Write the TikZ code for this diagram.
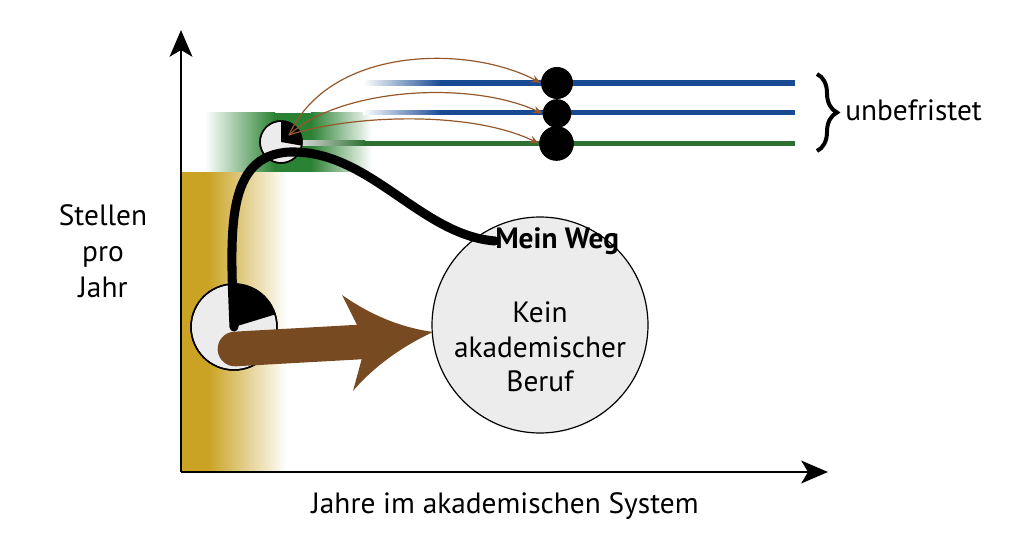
\documentclass[tikz,border=0pt]{standalone}
\usepackage{fontspec}
\setmainfont{PT Sans}
\usetikzlibrary{arrows.meta,decorations.pathreplacing}
\definecolor{gold}{RGB}{202,163,36}
\definecolor{bandgreen}{RGB}{44,130,52}
\definecolor{linegreen}{RGB}{45,112,50}
\definecolor{lineblue}{RGB}{24,74,148}
\definecolor{arrbrown}{RGB}{120,74,34}
\definecolor{thinbrown}{RGB}{150,88,42}
\definecolor{pielight}{RGB}{236,236,236}
\tikzset{
  lbl/.style={font=\fontsize{22}{26}\selectfont, align=center, inner sep=0pt},
  axis/.style={line width=2.2pt, -{Stealth[length=20pt,width=17pt,inset=5pt]}},
  thinarr/.style={thinbrown, line width=0.9pt, -{Stealth[length=7pt,width=5.5pt]}},
  dot/.style={circle, fill=black, inner sep=0pt},
  piecirc/.style={fill=pielight, draw=black, line width=1.1pt},
}
\begin{document}
\begin{tikzpicture}[x=0.75pt,y=0.75pt]
\useasboundingbox (0,0) rectangle (1024,-538);
% gold column
\fill[gold] (181,-172) rectangle (209,-472);
\shade[left color=gold, right color=white] (208,-172) rectangle (287,-472);
% green band
\shade[left color=white, right color=bandgreen] (205,-113) rectangle (275,-172);
\fill[bandgreen] (274,-113) rectangle (312,-172);
\shade[left color=bandgreen, right color=white] (311,-113) rectangle (372,-172);
% horizontal lines
\shade[left color=white, right color=lineblue] (363,-80.5) rectangle (441,-86);
\fill[lineblue] (440,-80.5) rectangle (795,-86);
\shade[left color=white, right color=lineblue] (363,-110.5) rectangle (441,-115);
\fill[lineblue] (440,-110.5) rectangle (795,-115);
\shade[left color=white!85!black, right color=linegreen] (300,-141) rectangle (365,-146);
\fill[linegreen] (364,-141) rectangle (795,-146);
% black dots
\node[dot, minimum size=24pt] (d1) at (557,-83) {};
\node[dot, minimum size=21.5pt] (d2) at (557,-113.5) {};
\node[dot, minimum size=26pt] (d3) at (556.5,-143.5) {};
% small pie
\coordinate (sp) at (281,-142);
\fill[piecirc] (sp) circle[radius=21];
\fill[black] (sp) -- ++(90:21) arc[start angle=90, end angle=-10, radius=21] -- cycle;
\draw[line width=1.1pt] (sp) circle[radius=21];
\coordinate (spa) at (289,-135);
% thin brown arrows
\draw[thinarr] (spa) .. controls (330,-45) and (470,-45) .. (d1.west);
\draw[thinarr] (spa) .. controls (340,-88) and (470,-80) .. (d2.west);
\draw[thinarr] (spa) .. controls (350,-115) and (470,-110) .. (d3.west);
% big circle
\node[circle, fill=pielight, draw=black, line width=0.9pt, minimum size=162pt, inner sep=0pt] (big) at (540,-325) {};
\node[lbl] (kein) at (540,-347) {Kein\\akademischer\\Beruf};
\node[lbl, font=\fontsize{22}{26}\selectfont\bfseries, anchor=west] (weg) at (495,-241) {Mein Weg};
% big pie
\coordinate (bp) at (234,-327);
\fill[piecirc] (bp) circle[radius=43];
\fill[black] (bp) -- ++(90:43) arc[start angle=90, end angle=17, radius=43] -- cycle;
\draw[line width=1.1pt] (bp) circle[radius=43];
% my path
\draw[line width=6.8pt, line cap=round] (bp) .. controls (230,-230) and (225,-155) .. (290,-152) .. controls (370,-150) and (420,-235) .. (weg.west);
% brown arrow
\coordinate (as) at (235,-349);
\coordinate (tip) at (433,-332);
\draw[arrbrown, line width=26pt, line cap=round] (as) -- (360,-342);
\fill[arrbrown] (357,-325) -- (342,-295) .. controls (375,-318) and (405,-328) .. (tip) .. controls (405,-345) and (375,-365) .. (353,-391) -- (362,-358) -- cycle;
% axes
\coordinate (o) at (181,-472);
\coordinate (yt) at (181,-30);
\coordinate (xt) at (828,-472);
\draw[axis] (o) -- (yt);
\draw[axis] (o) -- (xt);
% labels
\node[lbl, font=\fontsize{22}{27}\selectfont] (ylab) at (103,-251) {Stellen\\pro\\Jahr};
\node[lbl] (xlab) at (505,-506) {Jahre im akademischen System};
\coordinate (bt) at (817,-74);
\coordinate (bb) at (817,-151);
\draw[line width=3pt, decorate, decoration={brace, amplitude=15pt}] (bt) -- (bb);
\node[lbl, anchor=west] (unb) at (845,-110) {unbefristet};
\end{tikzpicture}
\end{document}
